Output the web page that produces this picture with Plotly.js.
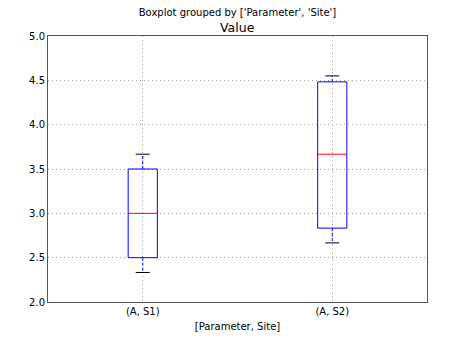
<!DOCTYPE html>
<html>
<head>
<meta charset="utf-8">
<script src="https://cdn.plot.ly/plotly-3.0.1.min.js"></script>
<style>html,body{margin:0;padding:0;background:#fff;}#chart{width:474px;height:355px;}</style>
</head>
<body>
<div id="chart"></div>
<script>
var categories = ['(A, S1)', '(A, S2)'];
var positions = [1, 2];
var lowerWhisker = [2.333, 2.667];
var q1 = [2.5, 2.833];
var median = [3.0, 3.667];
var q3 = [3.5, 4.483];
var upperWhisker = [3.667, 4.55];

var boxHalf = 0.077;
var capHalf = 0.037;
var traces = [];
for (var i = 0; i < categories.length; i++) {
  var p = positions[i];
  traces.push({type:'scatter', mode:'lines', hoverinfo:'skip', showlegend:false,
    x:[p,p,null,p,p], y:[q3[i],upperWhisker[i],null,q1[i],lowerWhisker[i]],
    line:{color:'#0000ff', width:1, dash:'3px,2px'}});
  traces.push({type:'scatter', mode:'lines', hoverinfo:'skip', showlegend:false,
    x:[p-capHalf,p+capHalf,null,p-capHalf,p+capHalf],
    y:[upperWhisker[i],upperWhisker[i],null,lowerWhisker[i],lowerWhisker[i]],
    line:{color:'#000000', width:1}});
  traces.push({type:'scatter', mode:'lines', hoverinfo:'skip', showlegend:false,
    x:[p-boxHalf,p+boxHalf,p+boxHalf,p-boxHalf,p-boxHalf],
    y:[q1[i],q1[i],q3[i],q3[i],q1[i]],
    line:{color:'#0000ff', width:1}});
  traces.push({type:'scatter', mode:'lines', hoverinfo:'skip', showlegend:false,
    x:[p-boxHalf,p+boxHalf], y:[median[i],median[i]],
    line:{color:'#ff0000', width:1}});
}

var font = 'DejaVu Sans, sans-serif';
var layout = {
  width:474, height:355,
  margin:{l:48, r:47, t:36, b:53},
  paper_bgcolor:'#ffffff', plot_bgcolor:'#ffffff',
  font:{family:font, size:10, color:'#000'},
  title:{text:"Boxplot grouped by ['Parameter', 'Site']", font:{family:font, size:10, color:'#000'},
    x:0.5, xanchor:'center', y:1-12/355, yanchor:'middle', xref:'paper', yref:'container'},
  xaxis:{range:[0.5,2.5], tickvals:positions, ticktext:categories, showgrid:true,
    gridcolor:'#a0a0a0', griddash:'1px,3px', gridwidth:1, zeroline:false,
    showline:true, linecolor:'#555555', linewidth:1, mirror:true, ticks:'',
    tickfont:{family:font, size:10, color:'#000'},
    title:{text:'[Parameter, Site]', font:{family:font, size:10, color:'#000'}, standoff:6}},
  yaxis:{range:[2.0,5.0], tickvals:[2.0,2.5,3.0,3.5,4.0,4.5,5.0],
    ticktext:['2.0','2.5','3.0','3.5','4.0','4.5','5.0'], showgrid:true,
    gridcolor:'#a0a0a0', griddash:'1px,3px', gridwidth:1, zeroline:false,
    showline:true, linecolor:'#555555', linewidth:1, mirror:true, ticks:'',
    tickfont:{family:font, size:10, color:'#000'}},
  annotations:[{text:'Value', xref:'paper', yref:'paper', x:0.5, y:1, xanchor:'center',
    yanchor:'bottom', yshift:-1, showarrow:false, font:{family:font, size:12.5, color:'#000'}}]
};
Plotly.newPlot('chart', traces, layout, {displayModeBar:false, staticPlot:true});
</script>
</body>
</html>
